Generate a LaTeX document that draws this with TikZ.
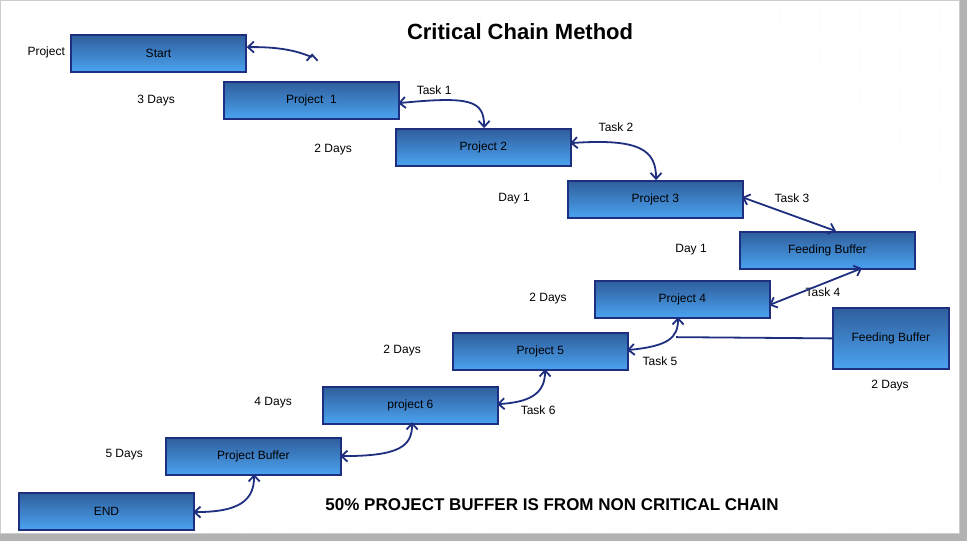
\documentclass[tikz,border=0pt]{standalone}
\usepackage{fontspec}
\setmainfont{Liberation Sans}
\usetikzlibrary{arrows.meta}
\definecolor{bord}{HTML}{1F2F80}
\definecolor{topc}{HTML}{2F5E9C}
\definecolor{botc}{HTML}{4BA3F0}
\tikzset{
 box/.style={draw=bord,line width=1.5pt,top color=topc,bottom color=botc,minimum width=175pt,minimum height=37pt,anchor=north west,inner sep=0pt,font=\fontsize{12}{14}\selectfont},
 lab/.style={font=\fontsize{12}{14}\selectfont,inner sep=0pt},
 con/.style={draw=bord,line width=1.8pt,{Straight Barb[length=6pt,width=11pt]}-{Straight Barb[length=6pt,width=11pt]}}
}
\begin{document}
\begin{tikzpicture}[x=1pt,y=-1pt]
\fill[white] (0,0) rectangle (967,541);
\fill[gray!60] (959,0) rectangle (967,541);
\fill[gray!60] (0,533) rectangle (967,541);
\draw[gray!40] (0,0) rectangle (959,533);
\foreach \i in {10,20,...,950}{\foreach \j in {10,20,...,530}{\fill[gray!15] (\i,\j) circle (0.6);}}
\node[font=\fontsize{22}{26}\selectfont\bfseries] (title) at (520,31) {Critical Chain Method};
\node[box] (start) at (70,34) {Start};
\node[box] (p1) at (223,81) {Project\ \ 1};
\node[box] (p2) at (395,128) {Project 2};
\node[box] (p3) at (567,180) {Project 3};
\node[box] (fb1) at (739,231) {Feeding Buffer};
\node[box] (p4) at (594,280) {Project 4};
\node[box,minimum width=116pt,minimum height=61pt] (fb2) at (832,307) {Feeding Buffer};
\node[box] (p5) at (452,332) {Project 5};
\node[box] (p6) at (322,386) {project 6};
\node[box] (pb) at (165,437) {Project Buffer};
\node[box] (end) at (18,492) {END};
\node[lab] (l0) at (46,52) {Project};
\node[lab] (l1) at (156,100) {3 Days};
\node[lab] (l2) at (333,149) {2 Days};
\node[lab] (l3) at (514,198) {Day 1};
\node[lab] (l4) at (691,249) {Day 1};
\node[lab] (l5) at (548,298) {2 Days};
\node[lab] (l6) at (402,350) {2 Days};
\node[lab] (l7) at (273,402) {4 Days};
\node[lab] (l8) at (124,455) {5 Days};
\node[lab] (l9) at (890,385) {2 Days};
\node[lab] (t1) at (434,90) {Task 1};
\node[lab] (t2) at (616,127) {Task 2};
\node[lab] (t3) at (792,198) {Task 3};
\node[lab] (t4) at (823,292) {Task 4};
\node[lab] (t5) at (660,361) {Task 5};
\node[lab] (t6) at (538,410) {Task 6};
\node[font=\fontsize{17}{20}\selectfont\bfseries] (note) at (552,505) {50\% PROJECT BUFFER IS FROM NON CRITICAL CHAIN};
\draw[con] (start.east |- 0,47) .. controls (300,46) and (312,60) .. (start.east -| 312,81);
\draw[con] (398,103) .. controls (470,96) and (484,100) .. (484,128);
\draw[con] (570,143) .. controls (640,138) and (656,150) .. (656,180);
\draw[con] (742,197) -- (836,231);
\draw[con] (769,305) -- (862,268);
\draw[draw=bord,line width=1.8pt] (fb2.west) -- (676,337);
\draw[con] (627,350) .. controls (668,346) and (678,338) .. (678,317);
\draw[con] (497,404) .. controls (535,402) and (545,390) .. (545,369);
\draw[con] (340,456) .. controls (400,456) and (412,446) .. (412,422);
\draw[con] (193,512) .. controls (240,512) and (254,500) .. (254,474);
\end{tikzpicture}
\end{document}
